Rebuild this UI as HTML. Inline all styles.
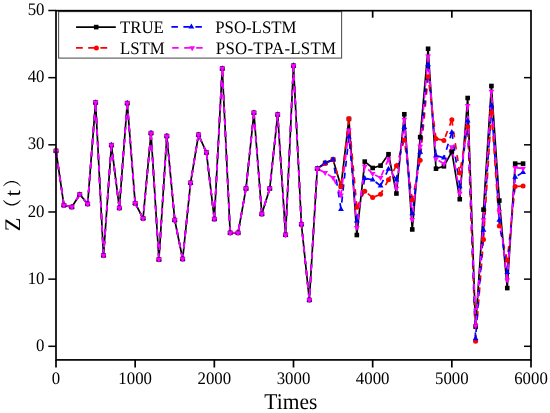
<!DOCTYPE html>
<html><head><meta charset="utf-8"><title>Chart</title>
<style>html,body{margin:0;padding:0;background:#fff;}svg{display:block;}</style>
</head><body>
<svg width="550" height="413" viewBox="0 0 550 413">
<rect width="550" height="413" fill="#fff"/>
<g><polyline points="56.00,150.86 63.92,205.26 71.83,207.01 79.75,194.52 87.67,203.92 95.58,102.51 103.50,255.43 111.42,145.16 119.33,207.95 127.25,103.18 135.17,203.25 143.08,218.36 151.00,133.13 158.92,259.53 166.83,136.09 174.75,220.04 182.67,258.99 190.58,182.77 198.50,134.75 206.42,152.48 214.33,219.03 222.25,68.53 230.17,232.80 238.08,232.80 246.00,188.47 253.92,112.78 261.83,213.99 269.75,188.47 277.67,114.60 285.58,234.81 293.50,65.71 301.42,224.27 309.33,299.96 317.25,168.66 325.17,162.95 333.08,159.60 341.00,186.46 348.92,118.96 356.83,235.02 364.75,161.61 372.67,167.99 380.58,165.64 388.50,154.22 396.42,193.51 404.33,114.26 412.25,229.44 420.17,137.10 428.08,48.78 436.00,168.66 443.92,166.31 451.83,151.54 459.75,199.22 467.67,98.01 475.58,326.62 483.50,209.63 491.42,85.99 499.33,200.56 507.25,288.07 515.17,163.62 523.08,163.62" fill="none" stroke="#000000" stroke-width="1.7" stroke-linejoin="miter"/><g stroke="#ff0000" stroke-width="1.7" stroke-dasharray="6.2 5.8"><line x1="63.92" y1="205.26" x2="56.00" y2="150.86"/><line x1="71.83" y1="207.01" x2="63.92" y2="205.26"/><line x1="79.75" y1="194.52" x2="71.83" y2="207.01"/><line x1="87.67" y1="203.92" x2="79.75" y2="194.52"/><line x1="95.58" y1="102.51" x2="87.67" y2="203.92"/><line x1="103.50" y1="255.43" x2="95.58" y2="102.51"/><line x1="111.42" y1="145.16" x2="103.50" y2="255.43"/><line x1="119.33" y1="207.95" x2="111.42" y2="145.16"/><line x1="127.25" y1="103.18" x2="119.33" y2="207.95"/><line x1="135.17" y1="203.25" x2="127.25" y2="103.18"/><line x1="143.08" y1="218.36" x2="135.17" y2="203.25"/><line x1="151.00" y1="133.13" x2="143.08" y2="218.36"/><line x1="158.92" y1="259.53" x2="151.00" y2="133.13"/><line x1="166.83" y1="136.09" x2="158.92" y2="259.53"/><line x1="174.75" y1="220.04" x2="166.83" y2="136.09"/><line x1="182.67" y1="258.99" x2="174.75" y2="220.04"/><line x1="190.58" y1="182.77" x2="182.67" y2="258.99"/><line x1="198.50" y1="134.75" x2="190.58" y2="182.77"/><line x1="206.42" y1="152.48" x2="198.50" y2="134.75"/><line x1="214.33" y1="219.03" x2="206.42" y2="152.48"/><line x1="222.25" y1="68.53" x2="214.33" y2="219.03"/><line x1="230.17" y1="232.80" x2="222.25" y2="68.53"/><line x1="238.08" y1="232.80" x2="230.17" y2="232.80"/><line x1="246.00" y1="188.47" x2="238.08" y2="232.80"/><line x1="253.92" y1="112.78" x2="246.00" y2="188.47"/><line x1="261.83" y1="213.99" x2="253.92" y2="112.78"/><line x1="269.75" y1="188.47" x2="261.83" y2="213.99"/><line x1="277.67" y1="114.60" x2="269.75" y2="188.47"/><line x1="285.58" y1="234.81" x2="277.67" y2="114.60"/><line x1="293.50" y1="65.71" x2="285.58" y2="234.81"/><line x1="301.42" y1="224.27" x2="293.50" y2="65.71"/><line x1="309.33" y1="299.96" x2="301.42" y2="224.27"/><line x1="317.25" y1="168.66" x2="309.33" y2="299.96"/><line x1="325.17" y1="163.62" x2="317.25" y2="168.66"/><line x1="333.08" y1="159.60" x2="325.17" y2="163.62"/><line x1="341.00" y1="186.46" x2="333.08" y2="159.60"/><line x1="348.92" y1="118.83" x2="341.00" y2="186.46"/><line x1="356.83" y1="207.28" x2="348.92" y2="118.83"/><line x1="364.75" y1="191.16" x2="356.83" y2="207.28"/><line x1="372.67" y1="197.54" x2="364.75" y2="191.16"/><line x1="380.58" y1="194.18" x2="372.67" y2="197.54"/><line x1="388.50" y1="179.74" x2="380.58" y2="194.18"/><line x1="396.42" y1="165.64" x2="388.50" y2="179.74"/><line x1="404.33" y1="140.12" x2="396.42" y2="165.64"/><line x1="412.25" y1="199.89" x2="404.33" y2="140.12"/><line x1="420.17" y1="160.27" x2="412.25" y2="199.89"/><line x1="428.08" y1="76.65" x2="420.17" y2="160.27"/><line x1="436.00" y1="138.78" x2="428.08" y2="76.65"/><line x1="443.92" y1="140.45" x2="436.00" y2="138.78"/><line x1="451.83" y1="119.84" x2="443.92" y2="140.45"/><line x1="459.75" y1="173.03" x2="451.83" y2="119.84"/><line x1="467.67" y1="126.69" x2="459.75" y2="173.03"/><line x1="475.58" y1="341.13" x2="467.67" y2="126.69"/><line x1="483.50" y1="239.52" x2="475.58" y2="341.13"/><line x1="491.42" y1="112.58" x2="483.50" y2="239.52"/><line x1="499.33" y1="226.08" x2="491.42" y2="112.58"/><line x1="507.25" y1="260.34" x2="499.33" y2="226.08"/><line x1="515.17" y1="186.46" x2="507.25" y2="260.34"/><line x1="523.08" y1="186.12" x2="515.17" y2="186.46"/></g><g stroke="#0000ff" stroke-width="1.7" stroke-dasharray="6.2 5.8"><line x1="63.92" y1="205.26" x2="56.00" y2="150.86"/><line x1="71.83" y1="207.01" x2="63.92" y2="205.26"/><line x1="79.75" y1="194.52" x2="71.83" y2="207.01"/><line x1="87.67" y1="203.92" x2="79.75" y2="194.52"/><line x1="95.58" y1="102.51" x2="87.67" y2="203.92"/><line x1="103.50" y1="255.43" x2="95.58" y2="102.51"/><line x1="111.42" y1="145.16" x2="103.50" y2="255.43"/><line x1="119.33" y1="207.95" x2="111.42" y2="145.16"/><line x1="127.25" y1="103.18" x2="119.33" y2="207.95"/><line x1="135.17" y1="203.25" x2="127.25" y2="103.18"/><line x1="143.08" y1="218.36" x2="135.17" y2="203.25"/><line x1="151.00" y1="133.13" x2="143.08" y2="218.36"/><line x1="158.92" y1="259.53" x2="151.00" y2="133.13"/><line x1="166.83" y1="136.09" x2="158.92" y2="259.53"/><line x1="174.75" y1="220.04" x2="166.83" y2="136.09"/><line x1="182.67" y1="258.99" x2="174.75" y2="220.04"/><line x1="190.58" y1="182.77" x2="182.67" y2="258.99"/><line x1="198.50" y1="134.75" x2="190.58" y2="182.77"/><line x1="206.42" y1="152.48" x2="198.50" y2="134.75"/><line x1="214.33" y1="219.03" x2="206.42" y2="152.48"/><line x1="222.25" y1="68.53" x2="214.33" y2="219.03"/><line x1="230.17" y1="232.80" x2="222.25" y2="68.53"/><line x1="238.08" y1="232.80" x2="230.17" y2="232.80"/><line x1="246.00" y1="188.47" x2="238.08" y2="232.80"/><line x1="253.92" y1="112.78" x2="246.00" y2="188.47"/><line x1="261.83" y1="213.99" x2="253.92" y2="112.78"/><line x1="269.75" y1="188.47" x2="261.83" y2="213.99"/><line x1="277.67" y1="114.60" x2="269.75" y2="188.47"/><line x1="285.58" y1="234.81" x2="277.67" y2="114.60"/><line x1="293.50" y1="65.71" x2="285.58" y2="234.81"/><line x1="301.42" y1="224.27" x2="293.50" y2="65.71"/><line x1="309.33" y1="299.96" x2="301.42" y2="224.27"/><line x1="317.25" y1="168.66" x2="309.33" y2="299.96"/><line x1="325.17" y1="162.95" x2="317.25" y2="168.66"/><line x1="333.08" y1="159.60" x2="325.17" y2="162.95"/><line x1="341.00" y1="209.29" x2="333.08" y2="159.60"/><line x1="348.92" y1="136.76" x2="341.00" y2="209.29"/><line x1="356.83" y1="220.71" x2="348.92" y2="136.76"/><line x1="364.75" y1="178.40" x2="356.83" y2="220.71"/><line x1="372.67" y1="179.74" x2="364.75" y2="178.40"/><line x1="380.58" y1="185.79" x2="372.67" y2="179.74"/><line x1="388.50" y1="169.00" x2="380.58" y2="185.79"/><line x1="396.42" y1="179.74" x2="388.50" y2="169.00"/><line x1="404.33" y1="127.36" x2="396.42" y2="179.74"/><line x1="412.25" y1="213.59" x2="404.33" y2="127.36"/><line x1="420.17" y1="152.21" x2="412.25" y2="213.59"/><line x1="428.08" y1="64.50" x2="420.17" y2="152.21"/><line x1="436.00" y1="155.57" x2="428.08" y2="64.50"/><line x1="443.92" y1="157.78" x2="436.00" y2="155.57"/><line x1="451.83" y1="132.40" x2="443.92" y2="157.78"/><line x1="459.75" y1="186.46" x2="451.83" y2="132.40"/><line x1="467.67" y1="120.91" x2="459.75" y2="186.46"/><line x1="475.58" y1="338.58" x2="467.67" y2="120.91"/><line x1="483.50" y1="230.11" x2="475.58" y2="338.58"/><line x1="491.42" y1="105.60" x2="483.50" y2="230.11"/><line x1="499.33" y1="220.04" x2="491.42" y2="105.60"/><line x1="507.25" y1="272.42" x2="499.33" y2="220.04"/><line x1="515.17" y1="177.06" x2="507.25" y2="272.42"/><line x1="523.08" y1="172.36" x2="515.17" y2="177.06"/></g><g stroke="#ff00ff" stroke-width="1.7" stroke-dasharray="6.2 5.8"><line x1="63.92" y1="205.26" x2="56.00" y2="150.86"/><line x1="71.83" y1="207.01" x2="63.92" y2="205.26"/><line x1="79.75" y1="194.52" x2="71.83" y2="207.01"/><line x1="87.67" y1="203.92" x2="79.75" y2="194.52"/><line x1="95.58" y1="102.51" x2="87.67" y2="203.92"/><line x1="103.50" y1="255.43" x2="95.58" y2="102.51"/><line x1="111.42" y1="145.16" x2="103.50" y2="255.43"/><line x1="119.33" y1="207.95" x2="111.42" y2="145.16"/><line x1="127.25" y1="103.18" x2="119.33" y2="207.95"/><line x1="135.17" y1="203.25" x2="127.25" y2="103.18"/><line x1="143.08" y1="218.36" x2="135.17" y2="203.25"/><line x1="151.00" y1="133.13" x2="143.08" y2="218.36"/><line x1="158.92" y1="259.53" x2="151.00" y2="133.13"/><line x1="166.83" y1="136.09" x2="158.92" y2="259.53"/><line x1="174.75" y1="220.04" x2="166.83" y2="136.09"/><line x1="182.67" y1="258.99" x2="174.75" y2="220.04"/><line x1="190.58" y1="182.77" x2="182.67" y2="258.99"/><line x1="198.50" y1="134.75" x2="190.58" y2="182.77"/><line x1="206.42" y1="152.48" x2="198.50" y2="134.75"/><line x1="214.33" y1="219.03" x2="206.42" y2="152.48"/><line x1="222.25" y1="68.53" x2="214.33" y2="219.03"/><line x1="230.17" y1="232.80" x2="222.25" y2="68.53"/><line x1="238.08" y1="232.80" x2="230.17" y2="232.80"/><line x1="246.00" y1="188.47" x2="238.08" y2="232.80"/><line x1="253.92" y1="112.78" x2="246.00" y2="188.47"/><line x1="261.83" y1="213.99" x2="253.92" y2="112.78"/><line x1="269.75" y1="188.47" x2="261.83" y2="213.99"/><line x1="277.67" y1="114.60" x2="269.75" y2="188.47"/><line x1="285.58" y1="234.81" x2="277.67" y2="114.60"/><line x1="293.50" y1="65.71" x2="285.58" y2="234.81"/><line x1="301.42" y1="224.27" x2="293.50" y2="65.71"/><line x1="309.33" y1="299.96" x2="301.42" y2="224.27"/><line x1="317.25" y1="168.66" x2="309.33" y2="299.96"/><line x1="325.17" y1="172.69" x2="317.25" y2="168.66"/><line x1="333.08" y1="177.73" x2="325.17" y2="172.69"/><line x1="341.00" y1="195.19" x2="333.08" y2="177.73"/><line x1="348.92" y1="130.04" x2="341.00" y2="195.19"/><line x1="356.83" y1="227.63" x2="348.92" y2="130.04"/><line x1="364.75" y1="166.31" x2="356.83" y2="227.63"/><line x1="372.67" y1="173.70" x2="364.75" y2="166.31"/><line x1="380.58" y1="177.73" x2="372.67" y2="173.70"/><line x1="388.50" y1="158.92" x2="380.58" y2="177.73"/><line x1="396.42" y1="188.47" x2="388.50" y2="158.92"/><line x1="404.33" y1="119.30" x2="396.42" y2="188.47"/><line x1="412.25" y1="219.57" x2="404.33" y2="119.30"/><line x1="420.17" y1="146.43" x2="412.25" y2="219.57"/><line x1="428.08" y1="56.17" x2="420.17" y2="146.43"/><line x1="436.00" y1="158.92" x2="428.08" y2="56.17"/><line x1="443.92" y1="163.83" x2="436.00" y2="158.92"/><line x1="451.83" y1="146.83" x2="443.92" y2="163.83"/><line x1="459.75" y1="193.51" x2="451.83" y2="146.83"/><line x1="467.67" y1="105.60" x2="459.75" y2="193.51"/><line x1="475.58" y1="325.95" x2="467.67" y2="105.60"/><line x1="483.50" y1="220.04" x2="475.58" y2="325.95"/><line x1="491.42" y1="91.49" x2="483.50" y2="220.04"/><line x1="499.33" y1="211.31" x2="491.42" y2="91.49"/><line x1="507.25" y1="280.08" x2="499.33" y2="211.31"/><line x1="515.17" y1="167.65" x2="507.25" y2="280.08"/><line x1="523.08" y1="168.33" x2="515.17" y2="167.65"/></g></g>
<g><g><rect x="53.70" y="148.56" width="4.6" height="4.6" fill="#000000"/><rect x="61.62" y="202.96" width="4.6" height="4.6" fill="#000000"/><rect x="69.53" y="204.71" width="4.6" height="4.6" fill="#000000"/><rect x="77.45" y="192.22" width="4.6" height="4.6" fill="#000000"/><rect x="85.37" y="201.62" width="4.6" height="4.6" fill="#000000"/><rect x="93.28" y="100.21" width="4.6" height="4.6" fill="#000000"/><rect x="101.20" y="253.13" width="4.6" height="4.6" fill="#000000"/><rect x="109.12" y="142.86" width="4.6" height="4.6" fill="#000000"/><rect x="117.03" y="205.65" width="4.6" height="4.6" fill="#000000"/><rect x="124.95" y="100.88" width="4.6" height="4.6" fill="#000000"/><rect x="132.87" y="200.95" width="4.6" height="4.6" fill="#000000"/><rect x="140.78" y="216.06" width="4.6" height="4.6" fill="#000000"/><rect x="148.70" y="130.83" width="4.6" height="4.6" fill="#000000"/><rect x="156.62" y="257.23" width="4.6" height="4.6" fill="#000000"/><rect x="164.53" y="133.79" width="4.6" height="4.6" fill="#000000"/><rect x="172.45" y="217.74" width="4.6" height="4.6" fill="#000000"/><rect x="180.37" y="256.69" width="4.6" height="4.6" fill="#000000"/><rect x="188.28" y="180.47" width="4.6" height="4.6" fill="#000000"/><rect x="196.20" y="132.45" width="4.6" height="4.6" fill="#000000"/><rect x="204.12" y="150.18" width="4.6" height="4.6" fill="#000000"/><rect x="212.03" y="216.73" width="4.6" height="4.6" fill="#000000"/><rect x="219.95" y="66.23" width="4.6" height="4.6" fill="#000000"/><rect x="227.87" y="230.50" width="4.6" height="4.6" fill="#000000"/><rect x="235.78" y="230.50" width="4.6" height="4.6" fill="#000000"/><rect x="243.70" y="186.17" width="4.6" height="4.6" fill="#000000"/><rect x="251.62" y="110.48" width="4.6" height="4.6" fill="#000000"/><rect x="259.53" y="211.69" width="4.6" height="4.6" fill="#000000"/><rect x="267.45" y="186.17" width="4.6" height="4.6" fill="#000000"/><rect x="275.37" y="112.30" width="4.6" height="4.6" fill="#000000"/><rect x="283.28" y="232.51" width="4.6" height="4.6" fill="#000000"/><rect x="291.20" y="63.41" width="4.6" height="4.6" fill="#000000"/><rect x="299.12" y="221.97" width="4.6" height="4.6" fill="#000000"/><rect x="307.03" y="297.66" width="4.6" height="4.6" fill="#000000"/><rect x="314.95" y="166.36" width="4.6" height="4.6" fill="#000000"/><rect x="322.87" y="160.65" width="4.6" height="4.6" fill="#000000"/><rect x="330.78" y="157.30" width="4.6" height="4.6" fill="#000000"/><rect x="338.70" y="184.16" width="4.6" height="4.6" fill="#000000"/><rect x="346.62" y="116.66" width="4.6" height="4.6" fill="#000000"/><rect x="354.53" y="232.72" width="4.6" height="4.6" fill="#000000"/><rect x="362.45" y="159.31" width="4.6" height="4.6" fill="#000000"/><rect x="370.37" y="165.69" width="4.6" height="4.6" fill="#000000"/><rect x="378.28" y="163.34" width="4.6" height="4.6" fill="#000000"/><rect x="386.20" y="151.92" width="4.6" height="4.6" fill="#000000"/><rect x="394.12" y="191.21" width="4.6" height="4.6" fill="#000000"/><rect x="402.03" y="111.96" width="4.6" height="4.6" fill="#000000"/><rect x="409.95" y="227.14" width="4.6" height="4.6" fill="#000000"/><rect x="417.87" y="134.80" width="4.6" height="4.6" fill="#000000"/><rect x="425.78" y="46.48" width="4.6" height="4.6" fill="#000000"/><rect x="433.70" y="166.36" width="4.6" height="4.6" fill="#000000"/><rect x="441.62" y="164.01" width="4.6" height="4.6" fill="#000000"/><rect x="449.53" y="149.24" width="4.6" height="4.6" fill="#000000"/><rect x="457.45" y="196.92" width="4.6" height="4.6" fill="#000000"/><rect x="465.37" y="95.71" width="4.6" height="4.6" fill="#000000"/><rect x="473.28" y="324.32" width="4.6" height="4.6" fill="#000000"/><rect x="481.20" y="207.33" width="4.6" height="4.6" fill="#000000"/><rect x="489.12" y="83.69" width="4.6" height="4.6" fill="#000000"/><rect x="497.03" y="198.26" width="4.6" height="4.6" fill="#000000"/><rect x="504.95" y="285.77" width="4.6" height="4.6" fill="#000000"/><rect x="512.87" y="161.32" width="4.6" height="4.6" fill="#000000"/><rect x="520.78" y="161.32" width="4.6" height="4.6" fill="#000000"/></g><g><circle cx="56.00" cy="150.86" r="2.50" fill="#ff0000"/><circle cx="63.92" cy="205.26" r="2.50" fill="#ff0000"/><circle cx="71.83" cy="207.01" r="2.50" fill="#ff0000"/><circle cx="79.75" cy="194.52" r="2.50" fill="#ff0000"/><circle cx="87.67" cy="203.92" r="2.50" fill="#ff0000"/><circle cx="95.58" cy="102.51" r="2.50" fill="#ff0000"/><circle cx="103.50" cy="255.43" r="2.50" fill="#ff0000"/><circle cx="111.42" cy="145.16" r="2.50" fill="#ff0000"/><circle cx="119.33" cy="207.95" r="2.50" fill="#ff0000"/><circle cx="127.25" cy="103.18" r="2.50" fill="#ff0000"/><circle cx="135.17" cy="203.25" r="2.50" fill="#ff0000"/><circle cx="143.08" cy="218.36" r="2.50" fill="#ff0000"/><circle cx="151.00" cy="133.13" r="2.50" fill="#ff0000"/><circle cx="158.92" cy="259.53" r="2.50" fill="#ff0000"/><circle cx="166.83" cy="136.09" r="2.50" fill="#ff0000"/><circle cx="174.75" cy="220.04" r="2.50" fill="#ff0000"/><circle cx="182.67" cy="258.99" r="2.50" fill="#ff0000"/><circle cx="190.58" cy="182.77" r="2.50" fill="#ff0000"/><circle cx="198.50" cy="134.75" r="2.50" fill="#ff0000"/><circle cx="206.42" cy="152.48" r="2.50" fill="#ff0000"/><circle cx="214.33" cy="219.03" r="2.50" fill="#ff0000"/><circle cx="222.25" cy="68.53" r="2.50" fill="#ff0000"/><circle cx="230.17" cy="232.80" r="2.50" fill="#ff0000"/><circle cx="238.08" cy="232.80" r="2.50" fill="#ff0000"/><circle cx="246.00" cy="188.47" r="2.50" fill="#ff0000"/><circle cx="253.92" cy="112.78" r="2.50" fill="#ff0000"/><circle cx="261.83" cy="213.99" r="2.50" fill="#ff0000"/><circle cx="269.75" cy="188.47" r="2.50" fill="#ff0000"/><circle cx="277.67" cy="114.60" r="2.50" fill="#ff0000"/><circle cx="285.58" cy="234.81" r="2.50" fill="#ff0000"/><circle cx="293.50" cy="65.71" r="2.50" fill="#ff0000"/><circle cx="301.42" cy="224.27" r="2.50" fill="#ff0000"/><circle cx="309.33" cy="299.96" r="2.50" fill="#ff0000"/><circle cx="317.25" cy="168.66" r="2.50" fill="#ff0000"/><circle cx="325.17" cy="163.62" r="2.50" fill="#ff0000"/><circle cx="333.08" cy="159.60" r="2.50" fill="#ff0000"/><circle cx="341.00" cy="186.46" r="2.50" fill="#ff0000"/><circle cx="348.92" cy="118.83" r="2.50" fill="#ff0000"/><circle cx="356.83" cy="207.28" r="2.50" fill="#ff0000"/><circle cx="364.75" cy="191.16" r="2.50" fill="#ff0000"/><circle cx="372.67" cy="197.54" r="2.50" fill="#ff0000"/><circle cx="380.58" cy="194.18" r="2.50" fill="#ff0000"/><circle cx="388.50" cy="179.74" r="2.50" fill="#ff0000"/><circle cx="396.42" cy="165.64" r="2.50" fill="#ff0000"/><circle cx="404.33" cy="140.12" r="2.50" fill="#ff0000"/><circle cx="412.25" cy="199.89" r="2.50" fill="#ff0000"/><circle cx="420.17" cy="160.27" r="2.50" fill="#ff0000"/><circle cx="428.08" cy="76.65" r="2.50" fill="#ff0000"/><circle cx="436.00" cy="138.78" r="2.50" fill="#ff0000"/><circle cx="443.92" cy="140.45" r="2.50" fill="#ff0000"/><circle cx="451.83" cy="119.84" r="2.50" fill="#ff0000"/><circle cx="459.75" cy="173.03" r="2.50" fill="#ff0000"/><circle cx="467.67" cy="126.69" r="2.50" fill="#ff0000"/><circle cx="475.58" cy="341.13" r="2.50" fill="#ff0000"/><circle cx="483.50" cy="239.52" r="2.50" fill="#ff0000"/><circle cx="491.42" cy="112.58" r="2.50" fill="#ff0000"/><circle cx="499.33" cy="226.08" r="2.50" fill="#ff0000"/><circle cx="507.25" cy="260.34" r="2.50" fill="#ff0000"/><circle cx="515.17" cy="186.46" r="2.50" fill="#ff0000"/><circle cx="523.08" cy="186.12" r="2.50" fill="#ff0000"/></g><g><polygon points="56.00,147.53 58.90,152.53 53.10,152.53" fill="#0000ff"/><polygon points="63.92,201.93 66.82,206.93 61.02,206.93" fill="#0000ff"/><polygon points="71.83,203.68 74.73,208.68 68.93,208.68" fill="#0000ff"/><polygon points="79.75,191.19 82.65,196.19 76.85,196.19" fill="#0000ff"/><polygon points="87.67,200.59 90.57,205.59 84.77,205.59" fill="#0000ff"/><polygon points="95.58,99.18 98.48,104.18 92.68,104.18" fill="#0000ff"/><polygon points="103.50,252.10 106.40,257.10 100.60,257.10" fill="#0000ff"/><polygon points="111.42,141.82 114.32,146.82 108.52,146.82" fill="#0000ff"/><polygon points="119.33,204.62 122.23,209.62 116.43,209.62" fill="#0000ff"/><polygon points="127.25,99.85 130.15,104.85 124.35,104.85" fill="#0000ff"/><polygon points="135.17,199.92 138.07,204.92 132.27,204.92" fill="#0000ff"/><polygon points="143.08,215.03 145.98,220.03 140.18,220.03" fill="#0000ff"/><polygon points="151.00,129.80 153.90,134.80 148.10,134.80" fill="#0000ff"/><polygon points="158.92,256.20 161.82,261.20 156.02,261.20" fill="#0000ff"/><polygon points="166.83,132.76 169.73,137.76 163.93,137.76" fill="#0000ff"/><polygon points="174.75,216.71 177.65,221.71 171.85,221.71" fill="#0000ff"/><polygon points="182.67,255.66 185.57,260.66 179.77,260.66" fill="#0000ff"/><polygon points="190.58,179.43 193.48,184.43 187.68,184.43" fill="#0000ff"/><polygon points="198.50,131.41 201.40,136.41 195.60,136.41" fill="#0000ff"/><polygon points="206.42,149.14 209.32,154.14 203.52,154.14" fill="#0000ff"/><polygon points="214.33,215.70 217.23,220.70 211.43,220.70" fill="#0000ff"/><polygon points="222.25,65.19 225.15,70.19 219.35,70.19" fill="#0000ff"/><polygon points="230.17,229.47 233.07,234.47 227.27,234.47" fill="#0000ff"/><polygon points="238.08,229.47 240.98,234.47 235.18,234.47" fill="#0000ff"/><polygon points="246.00,185.14 248.90,190.14 243.10,190.14" fill="#0000ff"/><polygon points="253.92,109.45 256.82,114.45 251.02,114.45" fill="#0000ff"/><polygon points="261.83,210.66 264.73,215.66 258.93,215.66" fill="#0000ff"/><polygon points="269.75,185.14 272.65,190.14 266.85,190.14" fill="#0000ff"/><polygon points="277.67,111.26 280.57,116.26 274.77,116.26" fill="#0000ff"/><polygon points="285.58,231.48 288.48,236.48 282.68,236.48" fill="#0000ff"/><polygon points="293.50,62.37 296.40,67.37 290.60,67.37" fill="#0000ff"/><polygon points="301.42,220.94 304.32,225.94 298.52,225.94" fill="#0000ff"/><polygon points="309.33,296.63 312.23,301.63 306.43,301.63" fill="#0000ff"/><polygon points="317.25,165.33 320.15,170.33 314.35,170.33" fill="#0000ff"/><polygon points="325.17,159.62 328.07,164.62 322.27,164.62" fill="#0000ff"/><polygon points="333.08,156.26 335.98,161.26 330.18,161.26" fill="#0000ff"/><polygon points="341.00,205.96 343.90,210.96 338.10,210.96" fill="#0000ff"/><polygon points="348.92,133.43 351.82,138.43 346.02,138.43" fill="#0000ff"/><polygon points="356.83,217.38 359.73,222.38 353.93,222.38" fill="#0000ff"/><polygon points="364.75,175.07 367.65,180.07 361.85,180.07" fill="#0000ff"/><polygon points="372.67,176.41 375.57,181.41 369.77,181.41" fill="#0000ff"/><polygon points="380.58,182.45 383.48,187.45 377.68,187.45" fill="#0000ff"/><polygon points="388.50,165.66 391.40,170.66 385.60,170.66" fill="#0000ff"/><polygon points="396.42,176.41 399.32,181.41 393.52,181.41" fill="#0000ff"/><polygon points="404.33,124.03 407.23,129.03 401.43,129.03" fill="#0000ff"/><polygon points="412.25,210.26 415.15,215.26 409.35,215.26" fill="#0000ff"/><polygon points="420.17,148.87 423.07,153.87 417.27,153.87" fill="#0000ff"/><polygon points="428.08,61.16 430.98,66.16 425.18,66.16" fill="#0000ff"/><polygon points="436.00,152.23 438.90,157.23 433.10,157.23" fill="#0000ff"/><polygon points="443.92,154.45 446.82,159.45 441.02,159.45" fill="#0000ff"/><polygon points="451.83,129.06 454.73,134.06 448.93,134.06" fill="#0000ff"/><polygon points="459.75,183.13 462.65,188.13 456.85,188.13" fill="#0000ff"/><polygon points="467.67,117.58 470.57,122.58 464.77,122.58" fill="#0000ff"/><polygon points="475.58,335.24 478.48,340.24 472.68,340.24" fill="#0000ff"/><polygon points="483.50,226.78 486.40,231.78 480.60,231.78" fill="#0000ff"/><polygon points="491.42,102.27 494.32,107.27 488.52,107.27" fill="#0000ff"/><polygon points="499.33,216.71 502.23,221.71 496.43,221.71" fill="#0000ff"/><polygon points="507.25,269.09 510.15,274.09 504.35,274.09" fill="#0000ff"/><polygon points="515.17,173.72 518.07,178.72 512.27,178.72" fill="#0000ff"/><polygon points="523.08,169.02 525.98,174.02 520.18,174.02" fill="#0000ff"/></g><g><polygon points="56.00,154.20 58.90,149.20 53.10,149.20" fill="#ff00ff"/><polygon points="63.92,208.60 66.82,203.60 61.02,203.60" fill="#ff00ff"/><polygon points="71.83,210.34 74.73,205.34 68.93,205.34" fill="#ff00ff"/><polygon points="79.75,197.85 82.65,192.85 76.85,192.85" fill="#ff00ff"/><polygon points="87.67,207.25 90.57,202.25 84.77,202.25" fill="#ff00ff"/><polygon points="95.58,105.84 98.48,100.84 92.68,100.84" fill="#ff00ff"/><polygon points="103.50,258.77 106.40,253.77 100.60,253.77" fill="#ff00ff"/><polygon points="111.42,148.49 114.32,143.49 108.52,143.49" fill="#ff00ff"/><polygon points="119.33,211.28 122.23,206.28 116.43,206.28" fill="#ff00ff"/><polygon points="127.25,106.51 130.15,101.51 124.35,101.51" fill="#ff00ff"/><polygon points="135.17,206.58 138.07,201.58 132.27,201.58" fill="#ff00ff"/><polygon points="143.08,221.69 145.98,216.69 140.18,216.69" fill="#ff00ff"/><polygon points="151.00,136.47 153.90,131.47 148.10,131.47" fill="#ff00ff"/><polygon points="158.92,262.86 161.82,257.86 156.02,257.86" fill="#ff00ff"/><polygon points="166.83,139.42 169.73,134.42 163.93,134.42" fill="#ff00ff"/><polygon points="174.75,223.37 177.65,218.37 171.85,218.37" fill="#ff00ff"/><polygon points="182.67,262.33 185.57,257.33 179.77,257.33" fill="#ff00ff"/><polygon points="190.58,186.10 193.48,181.10 187.68,181.10" fill="#ff00ff"/><polygon points="198.50,138.08 201.40,133.08 195.60,133.08" fill="#ff00ff"/><polygon points="206.42,155.81 209.32,150.81 203.52,150.81" fill="#ff00ff"/><polygon points="214.33,222.37 217.23,217.37 211.43,217.37" fill="#ff00ff"/><polygon points="222.25,71.86 225.15,66.86 219.35,66.86" fill="#ff00ff"/><polygon points="230.17,236.13 233.07,231.13 227.27,231.13" fill="#ff00ff"/><polygon points="238.08,236.13 240.98,231.13 235.18,231.13" fill="#ff00ff"/><polygon points="246.00,191.81 248.90,186.81 243.10,186.81" fill="#ff00ff"/><polygon points="253.92,116.12 256.82,111.12 251.02,111.12" fill="#ff00ff"/><polygon points="261.83,217.33 264.73,212.33 258.93,212.33" fill="#ff00ff"/><polygon points="269.75,191.81 272.65,186.81 266.85,186.81" fill="#ff00ff"/><polygon points="277.67,117.93 280.57,112.93 274.77,112.93" fill="#ff00ff"/><polygon points="285.58,238.15 288.48,233.15 282.68,233.15" fill="#ff00ff"/><polygon points="293.50,69.04 296.40,64.04 290.60,64.04" fill="#ff00ff"/><polygon points="301.42,227.60 304.32,222.60 298.52,222.60" fill="#ff00ff"/><polygon points="309.33,303.29 312.23,298.29 306.43,298.29" fill="#ff00ff"/><polygon points="317.25,172.00 320.15,167.00 314.35,167.00" fill="#ff00ff"/><polygon points="325.17,176.02 328.07,171.02 322.27,171.02" fill="#ff00ff"/><polygon points="333.08,181.06 335.98,176.06 330.18,176.06" fill="#ff00ff"/><polygon points="341.00,198.52 343.90,193.52 338.10,193.52" fill="#ff00ff"/><polygon points="348.92,133.38 351.82,128.38 346.02,128.38" fill="#ff00ff"/><polygon points="356.83,230.96 359.73,225.96 353.93,225.96" fill="#ff00ff"/><polygon points="364.75,169.64 367.65,164.64 361.85,164.64" fill="#ff00ff"/><polygon points="372.67,177.03 375.57,172.03 369.77,172.03" fill="#ff00ff"/><polygon points="380.58,181.06 383.48,176.06 377.68,176.06" fill="#ff00ff"/><polygon points="388.50,162.26 391.40,157.26 385.60,157.26" fill="#ff00ff"/><polygon points="396.42,191.81 399.32,186.81 393.52,186.81" fill="#ff00ff"/><polygon points="404.33,122.63 407.23,117.63 401.43,117.63" fill="#ff00ff"/><polygon points="412.25,222.90 415.15,217.90 409.35,217.90" fill="#ff00ff"/><polygon points="420.17,149.77 423.07,144.77 417.27,144.77" fill="#ff00ff"/><polygon points="428.08,59.50 430.98,54.50 425.18,54.50" fill="#ff00ff"/><polygon points="436.00,162.26 438.90,157.26 433.10,157.26" fill="#ff00ff"/><polygon points="443.92,167.16 446.82,162.16 441.02,162.16" fill="#ff00ff"/><polygon points="451.83,150.17 454.73,145.17 448.93,145.17" fill="#ff00ff"/><polygon points="459.75,196.84 462.65,191.84 456.85,191.84" fill="#ff00ff"/><polygon points="467.67,108.93 470.57,103.93 464.77,103.93" fill="#ff00ff"/><polygon points="475.58,329.28 478.48,324.28 472.68,324.28" fill="#ff00ff"/><polygon points="483.50,223.37 486.40,218.37 480.60,218.37" fill="#ff00ff"/><polygon points="491.42,94.83 494.32,89.83 488.52,89.83" fill="#ff00ff"/><polygon points="499.33,214.64 502.23,209.64 496.43,209.64" fill="#ff00ff"/><polygon points="507.25,283.41 510.15,278.41 504.35,278.41" fill="#ff00ff"/><polygon points="515.17,170.99 518.07,165.99 512.27,165.99" fill="#ff00ff"/><polygon points="523.08,171.66 525.98,166.66 520.18,166.66" fill="#ff00ff"/></g></g>
<g font-family="'Liberation Serif',serif" fill="#000"><rect x="58.6" y="11.6" width="283" height="46.5" fill="#fff" stroke="#555" stroke-width="1.1"/><line x1="76.1" y1="27.1" x2="115.8" y2="27.1" stroke="#000" stroke-width="1.7"/><rect x="93.90" y="24.80" width="4.6" height="4.6" fill="#000"/><line x1="76.0" y1="47.9" x2="108" y2="47.9" stroke="#f00" stroke-width="1.7" stroke-dasharray="6.8 5.4"/><circle cx="96.40" cy="47.90" r="2.50" fill="#f00"/><line x1="171.4" y1="26.9" x2="203" y2="26.9" stroke="#00f" stroke-width="1.7" stroke-dasharray="6.5 5.5"/><polygon points="191.40,23.57 194.30,28.57 188.50,28.57" fill="#00f"/><line x1="172.2" y1="47.9" x2="203.8" y2="47.9" stroke="#f0f" stroke-width="1.7" stroke-dasharray="6.5 5.5"/><polygon points="192.20,51.23 195.10,46.23 189.30,46.23" fill="#f0f"/><g font-size="17.6" text-rendering="geometricPrecision"><text transform="translate(120,33.0) scale(0.955,1)">TRUE</text><text transform="translate(120,53.6) scale(0.955,1)">LSTM</text><text transform="translate(215.2,32.8) scale(0.955,1)">PSO-LSTM</text><text transform="translate(215.8,53.5) scale(0.955,1)" letter-spacing="0.3">PSO-TPA-LSTM</text></g></g>
<g><rect x="56.00" y="10.70" width="475.00" height="349.20" fill="none" stroke="#000" stroke-width="1.7"/><line x1="56.00" y1="359.9" x2="56.00" y2="367.50" stroke="#000" stroke-width="1.7"/><line x1="135.17" y1="359.9" x2="135.17" y2="367.50" stroke="#000" stroke-width="1.7"/><line x1="214.33" y1="359.9" x2="214.33" y2="367.50" stroke="#000" stroke-width="1.7"/><line x1="293.50" y1="359.9" x2="293.50" y2="367.50" stroke="#000" stroke-width="1.7"/><line x1="372.67" y1="359.9" x2="372.67" y2="367.50" stroke="#000" stroke-width="1.7"/><line x1="372.67" y1="10.7" x2="372.67" y2="17.70" stroke="#000" stroke-width="1.7"/><line x1="451.83" y1="359.9" x2="451.83" y2="367.50" stroke="#000" stroke-width="1.7"/><line x1="451.83" y1="10.7" x2="451.83" y2="17.70" stroke="#000" stroke-width="1.7"/><line x1="531.00" y1="359.9" x2="531.00" y2="367.50" stroke="#000" stroke-width="1.7"/><line x1="48.30" y1="346.30" x2="56.00" y2="346.30" stroke="#000" stroke-width="1.5"/><line x1="524.00" y1="346.30" x2="531.00" y2="346.30" stroke="#000" stroke-width="1.5"/><line x1="48.30" y1="279.14" x2="56.00" y2="279.14" stroke="#000" stroke-width="1.5"/><line x1="524.00" y1="279.14" x2="531.00" y2="279.14" stroke="#000" stroke-width="1.5"/><line x1="48.30" y1="211.98" x2="56.00" y2="211.98" stroke="#000" stroke-width="1.5"/><line x1="524.00" y1="211.98" x2="531.00" y2="211.98" stroke="#000" stroke-width="1.5"/><line x1="48.30" y1="144.82" x2="56.00" y2="144.82" stroke="#000" stroke-width="1.5"/><line x1="524.00" y1="144.82" x2="531.00" y2="144.82" stroke="#000" stroke-width="1.5"/><line x1="48.30" y1="77.66" x2="56.00" y2="77.66" stroke="#000" stroke-width="1.5"/><line x1="524.00" y1="77.66" x2="531.00" y2="77.66" stroke="#000" stroke-width="1.5"/><line x1="48.30" y1="10.50" x2="56.00" y2="10.50" stroke="#000" stroke-width="1.5"/></g>
<g font-family="'Liberation Serif','Noto Serif CJK SC',serif" font-size="17.6" fill="#000" text-rendering="geometricPrecision"><text transform="translate(56.00,384.2) scale(0.955,1)" text-anchor="middle">0</text><text transform="translate(135.17,384.2) scale(0.955,1)" text-anchor="middle">1000</text><text transform="translate(214.33,384.2) scale(0.955,1)" text-anchor="middle">2000</text><text transform="translate(293.50,384.2) scale(0.955,1)" text-anchor="middle">3000</text><text transform="translate(372.67,384.2) scale(0.955,1)" text-anchor="middle">4000</text><text transform="translate(451.83,384.2) scale(0.955,1)" text-anchor="middle">5000</text><text transform="translate(531.00,384.2) scale(0.955,1)" text-anchor="middle">6000</text><text transform="translate(44.5,350.90) scale(0.955,1)" text-anchor="end">0</text><text transform="translate(44.5,283.74) scale(0.955,1)" text-anchor="end">10</text><text transform="translate(44.5,216.58) scale(0.955,1)" text-anchor="end">20</text><text transform="translate(44.5,149.42) scale(0.955,1)" text-anchor="end">30</text><text transform="translate(44.5,82.26) scale(0.955,1)" text-anchor="end">40</text><text transform="translate(44.5,15.10) scale(0.955,1)" text-anchor="end">50</text><text transform="translate(290.8,409.3) scale(0.955,1)" text-anchor="middle" font-size="22.5">Times</text><text transform="translate(19.8,231.3) rotate(-90)" font-size="22.3">Z<tspan font-family="'Noto Serif CJK SC',serif" font-size="18.6" dx="0.2" dy="-0.8">（</tspan><tspan dx="2.6" dy="0.8">t</tspan><tspan font-family="'Noto Serif CJK SC',serif" font-size="18.6" dx="2.6" dy="-0.8">）</tspan></text></g>
</svg>
</body></html>
